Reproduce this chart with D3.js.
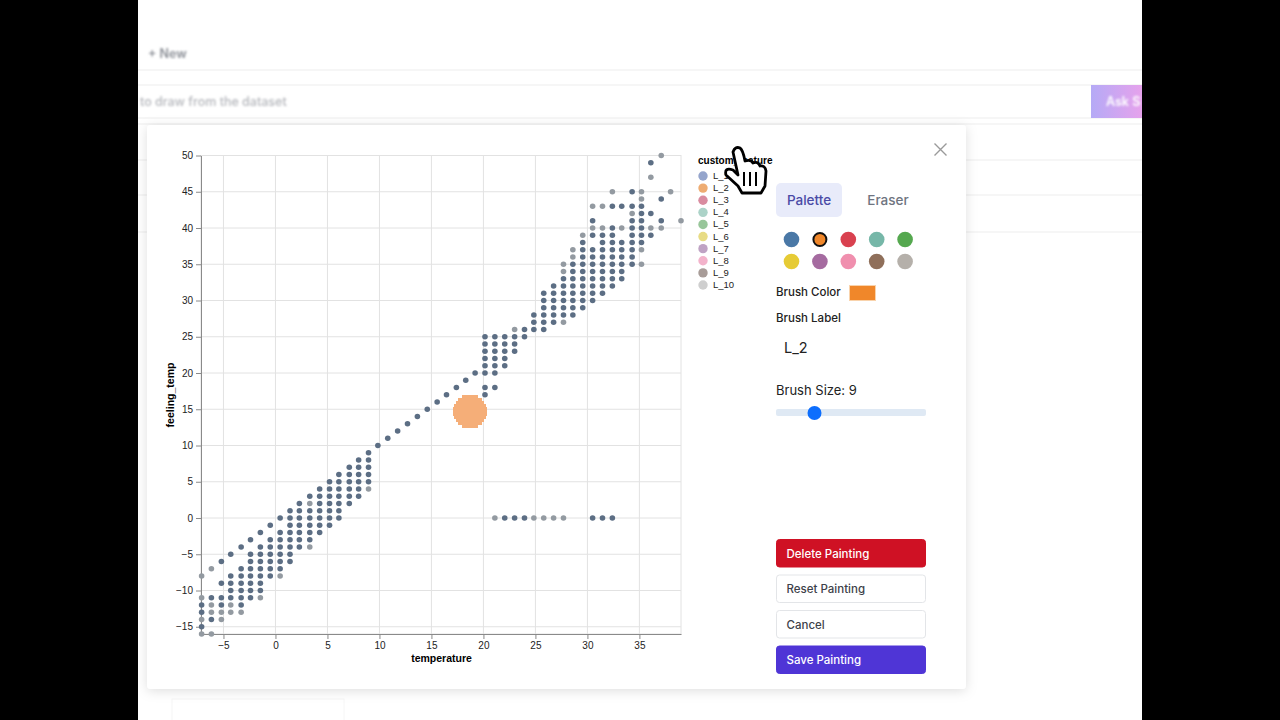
<!DOCTYPE html>
<html>
<head>
<meta charset="utf-8">
<script src="https://cdn.jsdelivr.net/npm/d3@7"></script>
<style>
  html, body { margin: 0; padding: 0; background: #000; overflow: hidden; }
  svg { display: block; }
  text { font-family: "Liberation Sans", sans-serif; }
  .ui text, text.ui { font-family: Inter, sans-serif; }
</style>
</head>
<body>
<svg id="chart" width="1280" height="720"></svg>
<script>
// one temperature per column of dots, feeling_temp values for that column below
var temperatures = [-7.1, -6.16, -5.2, -4.3, -3.3, -2.4, -1.45, -0.5, 0.45, 1.4, 2.3, 3.3, 4.25, 5.2, 6.1, 7.1, 8, 8.95, 9.85, 10.8, 11.75, 12.7, 13.65, 14.6, 15.55, 16.45, 17.4, 18.3, 19.2, 20.15, 21.1, 22.05, 23, 23.95, 24.85, 25.8, 26.75, 27.7, 28.6, 29.55, 30.5, 31.45, 32.4, 33.3, 34.3, 35.2, 36.1, 37.1, 38, 39];
var feelingTemp = [
  [-8, -11, -12, -13, -14, -15, -16],
  [-7, -11, -12, -13, -14, -16],
  [-6, -9, -11, -12, -13, -14],
  [-5, -8, -9, -10, -11, -12, -13],
  [-4, -7, -8, -9, -10, -11, -12, -13],
  [-3, -5, -6, -7, -8, -9, -10, -11],
  [-2, -4, -5, -6, -7, -8, -9, -10, -11],
  [-1, -3, -4, -5, -6, -7, -8],
  [0, -2, -3, -4, -5, -6, -7, -8],
  [1, 0, -1, -2, -3, -4, -5, -6],
  [2, 1, 0, -1, -2, -3, -4],
  [3, 2, 1, 0, -1, -2, -3, -4],
  [4, 3, 2, 1, 0, -1, -2],
  [5, 4, 3, 2, 1, 0, -1],
  [6, 5, 4, 3, 2, 1, 0],
  [7, 6, 5, 4, 3, 2],
  [8, 7, 6, 5, 4, 3],
  [9, 8, 7, 6, 5, 4],
  [10], [11], [12], [13], [14], [15], [16], [17], [18], [19], [20],
  [25, 24, 23, 22, 21, 20, 18, 17],
  [25, 24, 23, 22, 21, 20, 18, 0],
  [25, 24, 23, 22, 21, 0],
  [26, 25, 24, 23, 0],
  [26, 25, 0],
  [28, 27, 26, 0],
  [31, 30, 29, 28, 27, 26, 0],
  [32, 31, 30, 29, 28, 27, 0],
  [35, 34, 33, 32, 31, 30, 29, 28, 27, 0],
  [37, 36, 35, 34, 33, 32, 31, 30, 29, 28],
  [39, 38, 37, 36, 35, 34, 33, 32, 31, 30, 29],
  [43, 41, 40, 39, 37, 36, 35, 34, 33, 32, 31, 30, 0],
  [43, 40, 39, 38, 37, 36, 35, 34, 33, 32, 31, 0],
  [45, 43, 40, 39, 38, 37, 36, 35, 34, 33, 32, 0],
  [43, 40, 38, 37, 36, 35, 34, 33],
  [45, 43, 42, 41, 40, 39, 38, 37, 36, 35],
  [45, 44, 43, 42, 41, 40, 39, 38, 37, 35],
  [49, 47, 42, 40, 39],
  [50, 44, 41, 40],
  [45],
  [41]
];
// the same columns: values drawn in the paler grey
var fadedTemp = [
  [-8, -11, -14, -16], [-7, -12, -13, -16], [-13, -14], [-12, -13], [-13], [], [-11], [], [-8], [], [],
  [2, -4], [], [], [], [], [], [4], [], [], [], [], [], [], [], [], [], [], [],
  [], [0], [], [26], [], [0], [0], [0], [35, 34, 27, 0], [37, 36], [39], [43, 40], [43, 40], [45], [40], [42], [45, 44, 37, 35], [47, 40], [50, 40], [45], [41]
];

var xTicks = [-5, 0, 5, 10, 15, 20, 25, 30, 35];
var yTicks = [-15, -10, -5, 0, 5, 10, 15, 20, 25, 30, 35, 40, 45, 50];
var legendLabels = ['L_1', 'L_2', 'L_3', 'L_4', 'L_5', 'L_6', 'L_7', 'L_8', 'L_9', 'L_10'];
var legendColors = ['#95a5cc', '#eeac72', '#d98ca0', '#acd3c8', '#98c69a', '#e8dc85', '#bfa3c4', '#f3b3cb', '#a89c98', '#cfcfcf'];
var paletteColors = ['#4a78a6', '#f0872a', '#d9414f', '#76b7a8', '#55a84f', '#e6cb35', '#a56ba0', '#f08fae', '#8f6f5a', '#b5b0aa'];
var brushHalfWidths = [8, 12, 14, 16, 17, 17, 17, 16, 14, 12, 8];
var buttonLabels = ['Delete Painting', 'Reset Painting', 'Cancel', 'Save Painting'];

var svg = d3.select('#chart');

// page behind the dialog
svg.append('rect').attr('x', 138).attr('width', 1004).attr('height', 720).attr('fill', '#fff');

var defs = svg.append('defs');
defs.append('filter').attr('id', 'soft').append('feGaussianBlur').attr('stdDeviation', 1);
var shadow = defs.append('filter').attr('id', 'shadow')
  .attr('x', '-5%').attr('y', '-5%').attr('width', '110%').attr('height', '110%');
shadow.append('feDropShadow').attr('dx', 0).attr('dy', 2).attr('stdDeviation', 6)
  .attr('flood-color', '#000').attr('flood-opacity', 0.13);
var askFill = defs.append('linearGradient').attr('id', 'ask');
askFill.append('stop').attr('offset', '0%').attr('stop-color', '#b5aaf6');
askFill.append('stop').attr('offset', '100%').attr('stop-color', '#e6a2ec');

var back = svg.append('g').attr('class', 'ui');
[70, 85, 118, 124, 160, 195, 232].forEach(function(y) {
  back.append('rect').attr('x', 138).attr('width', 1004).attr('y', y - 1).attr('height', 2).attr('fill', '#f6f6f6');
});
back.append('rect').attr('x', 172).attr('y', 699).attr('width', 172).attr('height', 30)
  .attr('fill', 'none').attr('stroke', '#f6f6f6');
back.append('text').attr('x', 148).attr('y', 58).attr('font-size', 12.5).attr('font-weight', 600)
  .attr('fill', '#8b8f96').attr('filter', 'url(#soft)').text('+ New');
back.append('text').attr('x', 140).attr('y', 106).attr('font-size', 12.5).attr('font-weight', 500)
  .attr('fill', '#b4b6bb').attr('filter', 'url(#soft)').text('to draw from the dataset');
back.append('rect').attr('x', 1091).attr('y', 85).attr('width', 51).attr('height', 33).attr('fill', 'url(#ask)');
back.append('text').attr('x', 1106).attr('y', 106).attr('font-size', 12.5).attr('font-weight', 600)
  .attr('fill', '#fff').attr('filter', 'url(#soft)').text('Ask S');
back.append('rect').attr('x', 1142).attr('width', 138).attr('height', 720).attr('fill', '#000');

// dialog
svg.append('rect').attr('x', 147).attr('y', 125).attr('width', 819).attr('height', 564)
  .attr('rx', 4).attr('fill', '#fff').attr('filter', 'url(#shadow)');

var x = d3.scaleLinear().domain([-7.16, 39]).range([201, 681]);
var y = d3.scaleLinear().domain([-16, 50]).range([634, 155.5]);

var g = svg.append('g');

g.append('g').selectAll('line').data(xTicks).join('line')
  .attr('x1', function(d) { return x(d); }).attr('x2', function(d) { return x(d); })
  .attr('y1', y(50)).attr('y2', y(-16)).attr('stroke', '#e2e2e2');
g.append('g').selectAll('line').data(yTicks).join('line')
  .attr('x1', x(-7.16)).attr('x2', x(39))
  .attr('y1', function(d) { return y(d); }).attr('y2', function(d) { return y(d); }).attr('stroke', '#e2e2e2');
g.append('rect').attr('x', x(-7.16)).attr('y', y(50))
  .attr('width', x(39) - x(-7.16)).attr('height', y(-16) - y(50))
  .attr('fill', 'none').attr('stroke', '#e2e2e2');

function tickText(d) { return String(d).replace('-', '−'); }
var xAxis = g.append('g').attr('transform', 'translate(0,' + y(-16) + ')')
  .call(d3.axisBottom(x).tickValues(xTicks).tickSize(5).tickSizeOuter(0).tickPadding(3).tickFormat(tickText));
var yAxis = g.append('g').attr('transform', 'translate(' + x(-7.16) + ',0)')
  .call(d3.axisLeft(y).tickValues(yTicks).tickSize(5).tickSizeOuter(0).tickPadding(3).tickFormat(tickText));
[xAxis, yAxis].forEach(function(a) {
  a.selectAll('.domain, line').attr('stroke', '#8a8a8a');
  a.selectAll('text').attr('font-size', 10).attr('font-family', '"Liberation Sans", sans-serif').attr('fill', '#222');
});

g.append('text').attr('x', 441.5).attr('y', 662).attr('text-anchor', 'middle')
  .attr('font-size', 10.5).attr('font-weight', 700).text('temperature');
g.append('text').attr('transform', 'translate(174,395) rotate(-90)').attr('text-anchor', 'middle')
  .attr('font-size', 10.5).attr('font-weight', 700).text('feeling_temp');

// dots, one group per temperature column
var columns = g.append('g').selectAll('g').data(temperatures).join('g');
columns.selectAll('circle')
  .data(function(t, i) {
    return feelingTemp[i].map(function(v) {
      return {t: t, v: v, faded: fadedTemp[i].indexOf(v) >= 0};
    });
  })
  .join('circle')
  .attr('cx', function(d) { return x(d.t); })
  .attr('cy', function(d) { return y(d.v); })
  .attr('r', 2.8)
  .attr('fill', function(d) { return d.faded ? '#939aa1' : '#5c6e84'; });

// painted brush stroke, blocky like the canvas cells
g.append('g').attr('shape-rendering', 'crispEdges').selectAll('rect').data(brushHalfWidths).join('rect')
  .attr('x', function(d) { return Math.round(x(18.7)) - d; })
  .attr('y', function(d, i) { return 395 + i * 3; })
  .attr('width', function(d) { return d * 2; })
  .attr('height', 3)
  .attr('fill', '#f5ae78');

// legend
var legend = svg.append('g');
legend.append('text').attr('x', 698).attr('y', 164).attr('font-size', 10).attr('font-weight', 700).text('custom_feature');
var legendY = d3.scalePoint().domain(legendLabels).range([176, 285]);
var items = legend.selectAll('g').data(legendLabels).join('g')
  .attr('transform', function(d) { return 'translate(703,' + legendY(d) + ')'; });
items.append('circle').attr('r', 4.7).attr('fill', function(d, i) { return legendColors[i]; });
items.append('text').attr('x', 10).attr('y', 3).attr('font-size', 9.5).attr('fill', '#222')
  .text(function(d) { return d; });

// controls
var ui = svg.append('g').attr('class', 'ui');
ui.append('path').attr('d', 'M934.500 143.500L946.500 155.500M946.500 143.500L934.500 155.500')
  .attr('stroke', '#9a9a9a').attr('stroke-width', 1.4).attr('fill', 'none');
ui.append('rect').attr('x', 776).attr('y', 183).attr('width', 66).attr('height', 34).attr('rx', 5).attr('fill', '#e8ebfa');
ui.append('text').attr('x', 809).attr('y', 205).attr('text-anchor', 'middle').attr('font-size', 13.5)
  .attr('font-weight', 500).attr('fill', '#4a4aa6').text('Palette');
ui.append('text').attr('x', 888).attr('y', 205).attr('text-anchor', 'middle').attr('font-size', 13.5)
  .attr('font-weight', 500).attr('fill', '#6f7480').text('Eraser');

ui.append('g').selectAll('circle').data(paletteColors).join('circle')
  .attr('cx', function(d, i) { return 791.500 + (i % 5) * 28.4; })
  .attr('cy', function(d, i) { return i < 5 ? 239.500 : 261.500; })
  .attr('r', function(d, i) { return i == 1 ? 6.500 : 7.800; })
  .attr('fill', function(d) { return d; })
  .attr('stroke', function(d, i) { return i == 1 ? '#111' : 'none'; })
  .attr('stroke-width', 2);

ui.append('text').attr('x', 776).attr('y', 296).attr('font-size', 11.5).attr('font-weight', 500).attr('fill', '#222').text('Brush Color');
ui.append('rect').attr('x', 849.500).attr('y', 285.500).attr('width', 26).attr('height', 15)
  .attr('fill', paletteColors[1]).attr('stroke', '#f9d3ac');
ui.append('text').attr('x', 776).attr('y', 322).attr('font-size', 11.5).attr('font-weight', 500).attr('fill', '#222').text('Brush Label');
ui.append('text').attr('x', 784).attr('y', 353).attr('font-size', 14.5).attr('fill', '#222').text('L_2');
ui.append('text').attr('x', 776).attr('y', 395).attr('font-size', 13).attr('fill', '#222').text('Brush Size: 9');
ui.append('rect').attr('x', 776).attr('y', 409).attr('width', 150).attr('height', 7).attr('rx', 2).attr('fill', '#dfe9f4');
ui.append('circle').attr('cx', 814.500).attr('cy', 413).attr('r', 7).attr('fill', '#0d6efd');

var buttonTop = d3.scalePoint().domain(buttonLabels).range([539.500, 646]);
var buttonFill = ['#cf1124', '#fff', '#fff', '#4f35d6'];
var buttonText = ['#fff', '#3d4149', '#3d4149', '#fff'];
var buttons = ui.append('g').selectAll('g').data(buttonLabels).join('g')
  .attr('transform', function(d) { return 'translate(776.500,' + buttonTop(d) + ')'; });
buttons.append('rect').attr('width', 149).attr('height', 27.500).attr('rx', 3)
  .attr('fill', function(d, i) { return buttonFill[i]; })
  .attr('stroke', function(d, i) { return buttonFill[i] == '#fff' ? '#e3e5e8' : buttonFill[i]; });
buttons.append('text').attr('x', 10).attr('y', 18).attr('font-size', 11.5).attr('font-weight', 500)
  .attr('fill', function(d, i) { return buttonText[i]; }).text(function(d) { return d; });

// mouse pointer on top of the legend title
var hand = svg.append('g');
hand.append('path')
  .attr('d', 'M733 152Q735 146 740 148Q743 150 745 161Q751 159 753 163Q758 161 760 166Q765 165 766 171L765 186L761 193L742 193L738 186L726 175Q724 167 733 170L738 175Z')
  .attr('fill', '#fff').attr('stroke', '#000').attr('stroke-width', 2.8).attr('stroke-linejoin', 'round');
hand.selectAll('line').data([744, 750, 756]).join('line')
  .attr('x1', function(d) { return d; }).attr('x2', function(d) { return d; })
  .attr('y1', 172).attr('y2', 186).attr('stroke', '#000').attr('stroke-width', 2);
</script>
</body>
</html>
